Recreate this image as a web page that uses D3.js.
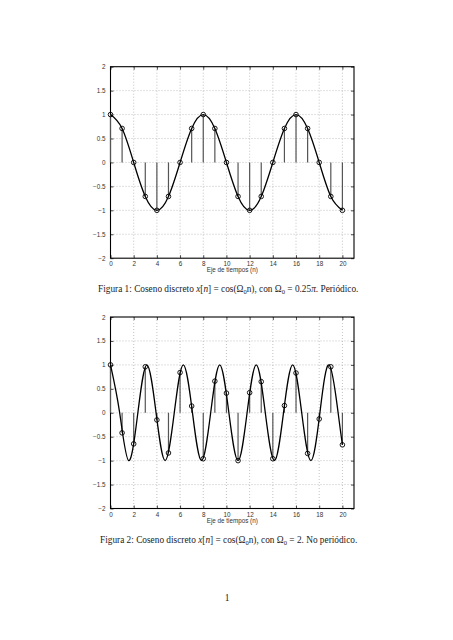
<!DOCTYPE html>
<html>
<head>
<meta charset="utf-8">
<script src="https://cdn.jsdelivr.net/npm/d3@7/dist/d3.min.js"></script>
<style>
  body { margin: 0; background: #fff; }
  svg { display: block; }
</style>
</head>
<body>
<div id="page"></div>
<script>
// sample instants n = 0..20
const n = d3.range(0, 21);

// Figura 1: x[n] = cos(0.25*pi*n)
const x1 = [1, 0.71, 0, -0.71, -1, -0.71, 0, 0.71, 1, 0.71, 0, -0.71, -1, -0.71, 0, 0.71, 1, 0.71, 0, -0.71, -1];

// Figura 2: x[n] = cos(2n)
const x2 = [1, -0.42, -0.65, 0.96, -0.15, -0.84, 0.84, 0.14, -0.96, 0.66, 0.41, -1, 0.42, 0.65, -0.96, 0.15, 0.83, -0.85, -0.13, 0.96, -0.67];

// continuous curve of figura 2: peaks, zero crossings and troughs
const c2t = [0, 0.79, 1.57, 2.36, 3.14, 3.93, 4.71, 5.5, 6.28, 7.07, 7.85, 8.64, 9.42, 10.21,
             11.0, 11.78, 12.57, 13.35, 14.14, 14.92, 15.71, 16.49, 17.28, 18.06, 18.85, 19.63, 20];
const c2v = [1, 0, -1, 0, 1, 0, -1, 0, 1, 0, -1, 0, 1, 0,
             -1, 0, 1, 0, -1, 0, 1, 0, -1, 0, 1, 0, -0.67];

const xTicks = d3.range(0, 21, 2);
const yTicks = [-2, -1.5, -1, -0.5, 0, 0.5, 1, 1.5, 2];

const W = 453, H = 640;
const svg = d3.select("#page").append("svg")
  .attr("width", W)
  .attr("height", H);

function fmt(v) {
  return v < 0 ? "\u2212" + Math.abs(v) : String(v);
}

function drawPlot(top, samples, curvePts) {
  const left = 110.5, right = 354, height = 191.5;
  const xScale = d3.scaleLinear().domain([0, 21]).range([left, right]);
  const yScale = d3.scaleLinear().domain([-2, 2]).range([top + height, top]);

  const g = svg.append("g");

  // dotted grid
  g.selectAll(".gx").data(xTicks.filter(d => d > 0)).enter()
    .append("line")
    .attr("x1", d => xScale(d)).attr("x2", d => xScale(d))
    .attr("y1", top).attr("y2", top + height)
    .attr("stroke", "#9a9a9a").attr("stroke-width", 0.6)
    .attr("stroke-dasharray", "1,2");
  g.selectAll(".gy").data(yTicks.filter(d => d > -2 && d < 2)).enter()
    .append("line")
    .attr("x1", left).attr("x2", right)
    .attr("y1", d => yScale(d)).attr("y2", d => yScale(d))
    .attr("stroke", "#9a9a9a").attr("stroke-width", 0.6)
    .attr("stroke-dasharray", "1,2");

  // axes (ticks inward)
  const axB = d3.axisBottom(xScale).tickValues(xTicks).tickSize(-3).tickPadding(5);
  const axL = d3.axisLeft(yScale).tickValues(yTicks).tickSize(-3).tickPadding(5).tickFormat(fmt);
  const axT = d3.axisTop(xScale).tickValues(xTicks).tickSize(-3).tickFormat("");
  const axR = d3.axisRight(yScale).tickValues(yTicks).tickSize(-3).tickFormat("");

  const gb = g.append("g").attr("transform", "translate(0," + (top + height) + ")").call(axB);
  const gl = g.append("g").attr("transform", "translate(" + left + ",0)").call(axL);
  const gt = g.append("g").attr("transform", "translate(0," + top + ")").call(axT);
  const gr = g.append("g").attr("transform", "translate(" + right + ",0)").call(axR);
  [gb, gl, gt, gr].forEach(a => {
    a.select(".domain").remove();
    a.selectAll("line").attr("stroke", "#000").attr("stroke-width", 0.7);
    a.selectAll("text")
      .attr("font-family", "Liberation Sans, Arial, sans-serif")
      .attr("font-size", 6.3)
      .attr("fill", "#333");
  });
  gb.selectAll("text").attr("dy", "0.5em");

  // frame
  g.append("rect")
    .attr("x", left).attr("y", top)
    .attr("width", right - left).attr("height", height)
    .attr("fill", "none").attr("stroke", "#000").attr("stroke-width", 1.1);

  // x label
  g.append("text")
    .attr("x", (left + right) / 2).attr("y", top + height + 14)
    .attr("text-anchor", "middle")
    .attr("font-family", "Liberation Sans, Arial, sans-serif")
    .attr("font-size", 6.3).attr("fill", "#333")
    .text("Eje de tiempos (n)");

  // stems
  g.selectAll(".stem").data(n).enter()
    .append("line")
    .attr("x1", d => xScale(d)).attr("x2", d => xScale(d))
    .attr("y1", yScale(0)).attr("y2", d => yScale(samples[d]))
    .attr("stroke", "#555").attr("stroke-width", 1.2);

  // continuous curve
  const line = d3.line()
    .x(d => xScale(d[0]))
    .y(d => yScale(d[1]))
    .curve(d3.curveNatural);
  g.append("path")
    .datum(curvePts)
    .attr("d", line)
    .attr("fill", "none").attr("stroke", "#000").attr("stroke-width", 1.3);

  // markers
  g.selectAll(".mk").data(n).enter()
    .append("circle")
    .attr("cx", d => xScale(d)).attr("cy", d => yScale(samples[d]))
    .attr("r", 2.3)
    .attr("fill", "none").attr("stroke", "#000").attr("stroke-width", 0.9);
}

const curve1 = n.map(d => [d, x1[d]]);
const curve2 = c2t.map((t, i) => [t, c2v[i]]);

drawPlot(66.7, x1, curve1);
drawPlot(317, x2, curve2);

// captions
function caption(y, x0, parts) {
  const t = svg.append("text")
    .attr("x", x0).attr("y", y)
    .attr("font-family", "Liberation Serif, Times New Roman, serif")
    .attr("font-size", 9.3).attr("fill", "#222");
  parts.forEach(p => {
    const s = t.append("tspan").text(p[0]);
    if (p[1] === "i") s.attr("font-style", "italic");
    if (p[1] === "sub") s.attr("font-size", 6.5).attr("dy", 2);
    if (p[1] === "up") s.attr("dy", -2);
  });
}

caption(292, 98, [
  ["Figura 1: Coseno discreto "], ["x", "i"], ["[", ""], ["n", "i"], ["] = cos(Ω"],
  ["0", "sub"], ["n", "up"], ["), con Ω"], ["0", "sub"], [" = 0.25", "up"], ["π", "i"], [". Periódico."]
]);
caption(543, 100, [
  ["Figura 2: Coseno discreto "], ["x", "i"], ["[", ""], ["n", "i"], ["] = cos(Ω"],
  ["0", "sub"], ["n", "up"], ["), con Ω"], ["0", "sub"], [" = 2. No periódico.", "up"]
]);

svg.append("text")
  .attr("x", 227).attr("y", 601)
  .attr("text-anchor", "middle")
  .attr("font-family", "Liberation Serif, Times New Roman, serif")
  .attr("font-size", 9.5).attr("fill", "#222")
  .text("1");
</script>
</body>
</html>
